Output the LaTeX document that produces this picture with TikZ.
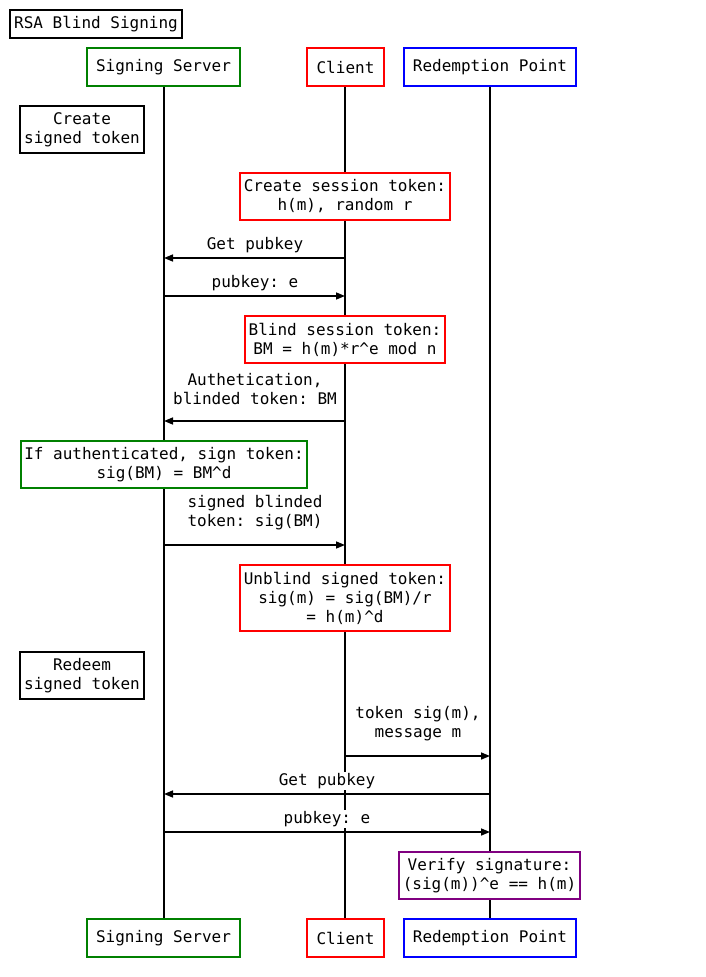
\documentclass[tikz,border=0pt]{standalone}
\usepackage{fontspec}
\setmonofont{DejaVu Sans Mono}
\usetikzlibrary{arrows.meta}
\definecolor{sgreen}{RGB}{0,128,0}
\definecolor{spurple}{RGB}{128,0,128}
\begin{document}
\begin{tikzpicture}[x=1pt,y=-1pt,
  every node/.style={font=\ttfamily\fontsize{16}{19}\selectfont, inner sep=0pt},
  box/.style={draw, line width=1.5pt, fill=white, align=center},
  life/.style={line width=1.5pt},
  msg/.style={line width=1.5pt, -{Triangle[length=9pt,width=7pt]}},
  lbl/.style={fill=white, align=center, inner sep=1pt}]
\useasboundingbox (0,0) rectangle (706,977);
% lifelines
\draw[life] (164,86) -- (164,919);
\draw[life] (345,86) -- (345,919);
\draw[life] (490,86) -- (490,919);
% title
\node[box, minimum width=172pt, minimum height=28pt] (title) at (96,24) {RSA Blind Signing};
% heads
\node[box, draw=sgreen, minimum width=153pt, minimum height=38pt] (sh) at (163.5,67) {Signing Server};
\node[box, draw=red, minimum width=77pt, minimum height=38pt] (ch) at (345.5,67) {Client};
\node[box, draw=blue, minimum width=172pt, minimum height=38pt] (rh) at (490,67) {Redemption Point};
\node[box, draw=sgreen, minimum width=153pt, minimum height=38pt] (sf) at (163.5,938) {Signing Server};
\node[box, draw=red, minimum width=77pt, minimum height=38pt] (cf) at (345.5,938) {Client};
\node[box, draw=blue, minimum width=172pt, minimum height=38pt] (rf) at (490,938) {Redemption Point};
% notes
\node[box, minimum width=124pt, minimum height=47pt] (n1) at (82,129.5) {Create\\signed token};
\node[box, draw=red, minimum width=210pt, minimum height=47pt] (b1) at (345,196.5) {Create session token:\\ h(m), random r};
\coordinate (c1) at (345,258); \coordinate (s1) at (164,258);
\draw[msg] (c1) -- (s1);
\node[lbl] (l1) at (255,245) {Get pubkey};
\coordinate (c2) at (345,296); \coordinate (s2) at (164,296);
\draw[msg] (s2) -- (c2);
\node[lbl] (l2) at (255,283) {pubkey: e};
\node[box, draw=red, minimum width=200pt, minimum height=47pt] (b2) at (345,339.5) {Blind session token:\\ BM = h(m)*r\textasciicircum e mod n};
\node[lbl] (l3) at (255,389.5) {Authetication,\\blinded token: BM};
\coordinate (c3) at (345,421); \coordinate (s3) at (164,421);
\draw[msg] (c3) -- (s3);
\node[box, draw=sgreen, minimum width=286pt, minimum height=47pt] (b3) at (164,464.5) {If authenticated, sign token:\\sig(BM) = BM\textasciicircum d};
\node[lbl] (l4) at (255,513) {signed blinded\\token: sig(BM)};
\coordinate (c4) at (345,545); \coordinate (s4) at (164,545);
\draw[msg] (s4) -- (c4);
\node[box, draw=red, minimum width=210pt, minimum height=66pt] (b4) at (345,598) {Unblind signed token:\\sig(m) = sig(BM)/r\\= h(m)\textasciicircum d};
\node[box, minimum width=124pt, minimum height=47pt] (n2) at (82,675.5) {Redeem\\signed token};
\node[lbl] (l5) at (418,723.5) {token sig(m),\\message m};
\coordinate (c5) at (345,756); \coordinate (r5) at (490,756);
\draw[msg] (c5) -- (r5);
\node[lbl] (l6) at (327,781) {Get pubkey};
\coordinate (r6) at (490,794); \coordinate (s6) at (164,794);
\draw[msg] (r6) -- (s6);
\node[lbl] (l7) at (327,819) {pubkey: e};
\coordinate (s7) at (164,832); \coordinate (r7) at (490,832);
\draw[msg] (s7) -- (r7);
\node[box, draw=spurple, minimum width=181pt, minimum height=47pt] (b5) at (489.5,875.5) {Verify signature:\\(sig(m))\textasciicircum e == h(m)};
\end{tikzpicture}
\end{document}
